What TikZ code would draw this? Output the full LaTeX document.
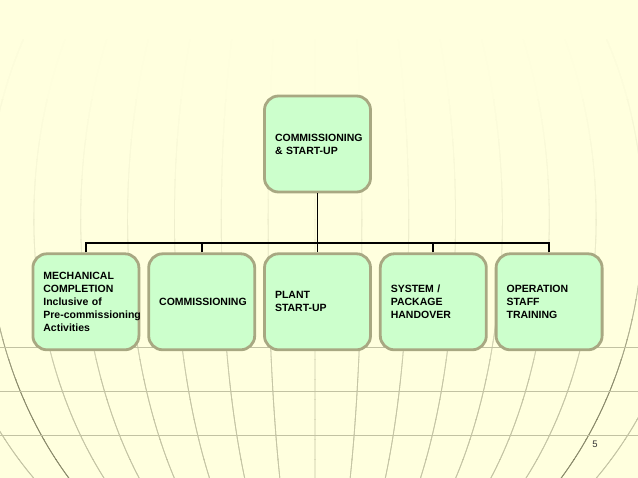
\documentclass[tikz,border=0pt]{standalone}
\usepackage{fontspec}
\setsansfont{Liberation Sans}
\usetikzlibrary{positioning, calc}

\definecolor{bgc}{RGB}{255,255,222}
\definecolor{gridc}{RGB}{110,110,80}
\definecolor{boxfill}{RGB}{204,255,204}
\definecolor{boxedge}{RGB}{168,168,130}

\begin{document}
\begin{tikzpicture}[
      x=1pt, y=-1pt,
      box/.style={rectangle, draw=boxedge, line width=2.8pt, rounded corners=14pt, fill=boxfill,
                  minimum width=106pt, minimum height=96pt, inner xsep=10.5pt, text width=85pt,
                  align=left, font=\sffamily\bfseries\fontsize{10.5}{13}\selectfont},
      conn/.style={line width=1.8pt, black, line join=miter},
      meridian/.style={line width=0.8pt}
    ]
    % background with the globe grid, fading out towards the top
    \fill[bgc] (0,0) rectangle (638,478);
    \useasboundingbox (0,0) rectangle (638,478);
    \foreach \yb in {40,60,...,460} {
      \pgfmathtruncatemacro\shade{min(40, 1 + ((\yb-40)/54)^2)}
      \begin{scope}
        \clip (0,\yb) rectangle (638,\yb+20);
        \foreach \k in {-8,...,8} {
          \pgfmathtruncatemacro\dk{abs(\k)==7 ? min(100,2*\shade) : \shade}
          \draw[meridian, draw=gridc!\dk!bgc] (315,219) ellipse [x radius={max(0.01,abs(\k)*328/7)}, y radius=392];
        }
      \end{scope}
    }
    \foreach \yy in {347,391,435}
      \draw[meridian, draw=gridc!42!bgc] (0,\yy) -- (638,\yy);

    \node[box] (top) at (317.5,144) {COMMISSIONING\\\& START-UP};

    \node[box, below=59pt of top] (plant) {PLANT\\START-UP};
    \node[box, left=7pt of plant] (comm) {COMMISSIONING};
    \node[box, left=7pt of comm] (mech) {MECHANICAL\\COMPLETION\\Inclusive of\\\mbox{Pre-commissioning}\\Activities};
    \node[box, right=7pt of plant] (sys) {SYSTEM /\\PACKAGE\\HANDOVER};
    \node[box, right=7pt of sys] (ops) {OPERATION\\STAFF\\TRAINING};

    \coordinate (bus) at ($(top.south)+(0,50)$);
    \draw[conn] (top.south) -- (bus);
    \foreach \n in {mech,comm,plant,sys,ops}
      \draw[conn] (\n.north) |- (bus);

    \node[text=black!80, font=\sffamily\fontsize{9.5}{11}\selectfont] (pagenum) at (595,444) {5};
  \end{tikzpicture}
\end{document}
